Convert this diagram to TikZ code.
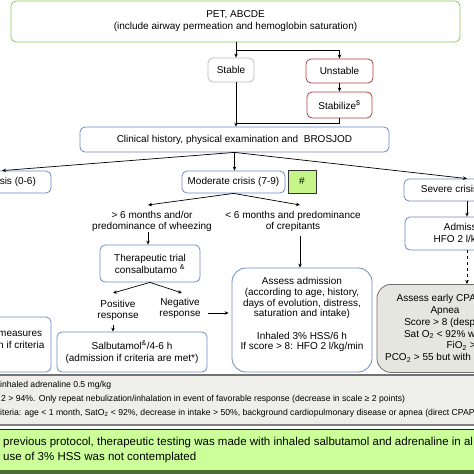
\documentclass[tikz,border=0pt]{standalone}
\usepackage{fontspec}
\setmainfont{Liberation Sans}
\usetikzlibrary{arrows.meta,calc}
\definecolor{greenb}{HTML}{8DC85A}
\definecolor{grayb}{HTML}{BBBBBB}
\definecolor{redb}{HTML}{B0413E}
\definecolor{blueb}{HTML}{6D8BC6}
\definecolor{hashfill}{HTML}{C6F58A}
\definecolor{cpapfill}{HTML}{E6E6E0}
\definecolor{cpapb}{HTML}{6E6E6E}
\definecolor{notefill}{HTML}{EEEEEA}
\definecolor{bandfill}{HTML}{CCFF99}
\definecolor{banddark}{HTML}{4C6E33}
\begin{document}
\begin{tikzpicture}[x=1pt,y=-1pt,
  box/.style={draw=blueb, rounded corners=5pt, line width=0.8pt, align=center, inner sep=1pt, font=\fontsize{10}{12}\selectfont},
  lbl/.style={align=center, inner sep=1pt, font=\fontsize{10}{11.5}\selectfont},
  note/.style={inner sep=0pt, font=\fontsize{8.65}{10}\selectfont},
  bandtxt/.style={inner sep=0pt, font=\fontsize{11.5}{13}\selectfont},
  arr/.style={-{Stealth[length=4pt,width=3.5pt]}, line width=0.7pt},
  ln/.style={line width=0.7pt}]
\useasboundingbox (0,0) rectangle (474,474);
\clip (0,0) rectangle (474,474);
\fill[white] (0,0) rectangle (474,474);
% boxes
\node[box, draw=greenb, minimum width=449pt, minimum height=41pt] (top) at (235.5,21.5) {PET, ABCDE\\(include airway permeation and hemoglobin saturation)};
\node[box, draw=grayb, minimum width=46pt, minimum height=24pt] (stable) at (231,70) {Stable};
\node[box, draw=redb, minimum width=67pt, minimum height=24pt] (unstable) at (339.5,71) {Unstable};
\node[box, draw=redb, minimum width=65pt, minimum height=26pt] (stabilize) at (339.5,105) {Stabilize\textsuperscript{\$}};
\node[box, minimum width=309pt, minimum height=25pt] (clinical) at (234.5,139.5) {Clinical history, physical examination and\ \ BROSJOD};
\node[box, minimum width=98pt, minimum height=22pt] (mild) at (2,182) {Mild crisis (0-6)};
\node[box, minimum width=103pt, minimum height=22pt] (moderate) at (233.5,182) {Moderate crisis (7-9)};
\node[box, draw=black!80, fill=hashfill, rounded corners=0pt, minimum width=28pt, minimum height=23pt] (hash) at (302,181.5) {\#};
\node[box, minimum width=126pt, minimum height=22pt] (severe) at (467,190) {Severe crisis (10-14)};
\node[box, minimum width=124pt, minimum height=33pt] (admission) at (467,233.5) {Admission\\HFO 2 l/kg/min};
\node[box, draw=cpapb, fill=cpapfill, rounded corners=14pt, anchor=north, minimum width=136pt, minimum height=88pt, font=\fontsize{10}{11.8}\selectfont] (cpap) at (445,284) {Assess early CPAP if:\\Apnea\\Score > 8 (despite\hspace*{20pt}\\Sat O\textsubscript{2} < 92\% with\\\hspace*{55pt}FiO\textsubscript{2} > 40\%\\PCO\textsubscript{2} > 55 but with\hspace*{34pt}};
\node[box, minimum width=100pt, minimum height=37pt] (trial) at (150,263.5) {Therapeutic trial\\consalbutamo \textsuperscript{\&}};
\node[box, rounded corners=14pt, minimum width=140pt, minimum height=104pt, font=\fontsize{10}{10.6}\selectfont] (assess) at (302,320) {Assess admission\\(according to age, history,\\days of evolution, distress,\\saturation and intake)\\[12pt]Inhaled 3\% HSS/6 h\\If score > 8: HFO 2 l/kg/min\\[2pt]\mbox{}};
\node[box, minimum width=150pt, minimum height=40pt] (salb) at (132,352) {Salbutamol\textsuperscript{\&}/4-6 h\\(admission if criteria are met*)};
\node[box, minimum width=100pt, minimum height=55pt] (measures) at (1,344.5) {General measures\\Admission if criteria\\\mbox{}};
% labels
\node[lbl] (gt6) at (152,221.5) {> 6 months and/or\\predominance of wheezing};
\node[lbl] (lt6) at (293,221.5) {< 6 months and predominance\\of crepitants};
\node[lbl] (pos) at (118,310.5) {Positive\\response};
\node[lbl] (neg) at (180,308.5) {Negative\\response};
% connectors
\coordinate (split) at (236,50);
\coordinate (join) at (236,123);
\draw[ln] (top.south -| split) -- (split);
\draw[arr] (split) -- (split |- stable.north);
\draw[arr] (split) -| (unstable.north);
\draw[arr] (unstable.south) -- (stabilize.north);
\draw[ln] (stabilize.south) |- (join);
\draw[ln] (join |- stable.south) -- (join);
\draw[arr] (join) -- (join |- clinical.north);
\draw[arr] (clinical.south) -- (mild.north);
\draw[arr] (clinical.south) -- (severe.north);
\draw[arr] (clinical.south) -- (clinical.south |- moderate.north);
\draw[arr] (moderate.south) -- ($(gt6.center)+(-4,-16.5)$);
\draw[arr] (moderate.south) -- ($(lt6.center)+(7,-16.5)$);
\draw[arr] ($(gt6.center)+(-4,10.5)$) -- ($(gt6.center |- trial.north)+(-4,0)$);
\draw[arr] (trial.south) -- ($(pos.center)+(-5,-17.5)$);
\draw[arr] (trial.south) -- ($(neg.center)+(2,-15.5)$);
\draw[arr] ($(pos.center)+(-5,14.5)$) -- ($(pos.center |- salb.north)+(-5,0)$);
\coordinate (negout) at ($(neg.center)+(28,4.5)$);
\draw[arr] (negout) -- ($(negout -| assess.west)+(-3,0)$);
\draw[arr] ($(lt6.center)+(7,14.5)$) -- ($(lt6.center |- assess.north)+(7,0)$);
\draw[arr] (severe.south) -- (admission.north);
\draw[arr, dashed] (admission.south) -- (admission.south |- cpap.north);
% footnote band
\fill[notefill] (0,376) rectangle (474,425);
\draw[line width=2pt, black!55] (0,375) -- (474,375);
\node[note, anchor=west] (n1) at (0,385) {inhaled adrenaline 0.5 mg/kg};
\node[note, anchor=west] (n2) at (1,399) {2 > 94\%. Only repeat nebulization/inhalation in event of favorable response (decrease in scale ≥ 2 points)};
\node[note, anchor=west] (n3) at (0,413) {iteria: age < 1 month, SatO\textsubscript{2} < 92\%, decrease in intake > 50\%, background cardiopulmonary disease or apnea (direct CPAP};
\draw[line width=1.2pt, black!50] (0,425) -- (474,425);
\draw[line width=1.2pt, black!85] (0,429.5) -- (474,429.5);
\fill[bandfill] (0,430.2) rectangle (474,470);
\fill[banddark] (0,470) rectangle (474,474);
\node[bandtxt, anchor=west] (g1) at (3,443) {previous protocol, therapeutic testing was made with inhaled salbutamol and adrenaline in al};
\node[bandtxt, anchor=west] (g2) at (3,458) {use of 3\% HSS was not contemplated};
\end{tikzpicture}
\end{document}
